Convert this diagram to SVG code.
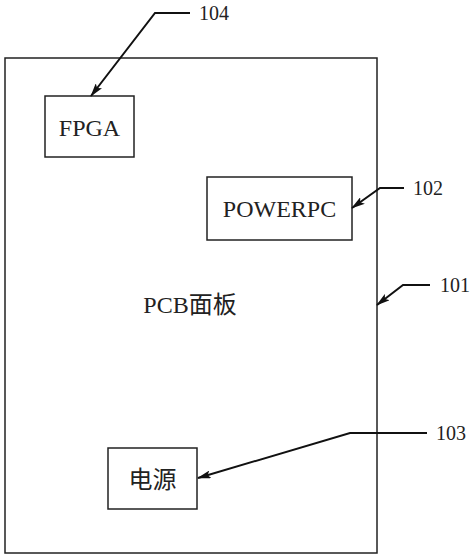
<svg xmlns="http://www.w3.org/2000/svg" width="474" height="557" viewBox="0 0 474 557">
<style>
.box{fill:none;stroke:#222;stroke-width:1.5}
.lbl{font-family:"Liberation Serif","Noto Sans CJK SC",serif;font-size:24px;fill:#222;text-anchor:middle}
.num{font-family:"Liberation Serif",serif;font-size:20px;fill:#222}
.ld{fill:none;stroke:#111;stroke-width:2}
</style>
<defs>
<marker id="ah" markerWidth="14" markerHeight="8" refX="13" refY="4" orient="auto" markerUnits="userSpaceOnUse">
<path d="M0,0 L14,4 L0,8 L3,4 Z" fill="#111"/>
</marker>
</defs>
<rect width="474" height="557" fill="#fff"/>
<g id="pcb">
<rect class="box" x="5" y="58" width="372" height="495"/>
<text class="lbl" x="190" y="313">PCB面板</text>
</g>
<g id="fpga">
<rect class="box" x="45" y="96" width="89" height="61"/>
<text class="lbl" x="89.5" y="136">FPGA</text>
</g>
<g id="powerpc">
<rect class="box" x="207" y="177" width="145" height="63"/>
<text class="lbl" x="279.5" y="217">POWERPC</text>
</g>
<g id="power">
<rect class="box" x="108" y="448" width="89" height="61"/>
<text class="lbl" x="152.5" y="488">电源</text>
</g>
<g id="connectors">
<polyline class="ld" points="190,13 155,13 91,96" marker-end="url(#ah)"/>
<polyline class="ld" points="404,188 380,188 352,208" marker-end="url(#ah)"/>
<polyline class="ld" points="430,285 403,285 377,305" marker-end="url(#ah)"/>
<polyline class="ld" points="427,433 350,433 198,478" marker-end="url(#ah)"/>
</g>
<g id="labels">
<text class="num" x="199" y="20">104</text>
<text class="num" x="413" y="195">102</text>
<text class="num" x="440" y="292">101</text>
<text class="num" x="436" y="440">103</text>
</g>
</svg>
